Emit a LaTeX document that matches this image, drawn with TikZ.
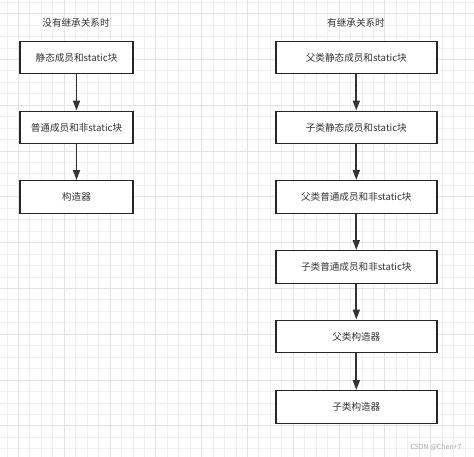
\documentclass[tikz,border=0pt]{standalone}
\usepackage{fontspec}
\setmainfont{Noto Sans CJK SC}
\usetikzlibrary{arrows.meta}
\begin{document}
\begin{tikzpicture}[x=1pt,y=-1pt,
  box/.style={draw=black!85,line width=1.4pt,fill=white,minimum width=#1,minimum height=32.5pt,inner sep=0pt,font=\fontsize{9.6}{11}\selectfont,text=black!80},
  box/.default=113pt,
  flow/.style={draw=black!80,line width=1.7pt,-{Triangle[length=10pt,width=7pt]}},
  ttl/.style={font=\fontsize{9.6}{11}\selectfont,text=black!80}]
\useasboundingbox (0,0) rectangle (474,457);
\fill[white] (0,0) rectangle (474,457);
% minor grid
\foreach \i in {0,...,41} {
  \draw[black!6,line width=0.6pt] ({18.3+11.45*(\i-1)},0) -- ({18.3+11.45*(\i-1)},457);
}
\foreach \i in {0,...,40} {
  \draw[black!6,line width=0.6pt] (0,{13.5+11.45*(\i-1)}) -- (474,{13.5+11.45*(\i-1)});
}
% major grid
\foreach \i in {0,...,10} {
  \draw[black!11,line width=0.7pt] ({18.3+45.8*\i},0) -- ({18.3+45.8*\i},457);
  \draw[black!11,line width=0.7pt] (0,{13.5+45.8*\i}) -- (474,{13.5+45.8*\i});
}
% left column
\node[ttl] (tl) at (76,23) {没有继承关系时};
\node[box] (l1) at (76.5,57.5) {静态成员和static块};
\node[box] (l2) at (76.5,127.5) {普通成员和非static块};
\node[box] (l3) at (76.5,197) {构造器};
\draw[flow] (l1) -- (l2);
\draw[flow] (l2) -- (l3);
% right column
\node[ttl] (tr) at (356,23) {有继承关系时};
\node[box=161pt] (r1) at (356.3,57.5) {父类静态成员和static块};
\node[box=161pt] (r2) at (356.3,127.5) {子类静态成员和static块};
\node[box=161pt] (r3) at (356.3,197) {父类普通成员和非static块};
\node[box=161pt] (r4) at (356.3,267) {子类普通成员和非static块};
\node[box=161pt] (r5) at (356.3,336.5) {父类构造器};
\node[box=161pt] (r6) at (356.3,407) {子类构造器};
\draw[flow] (r1) -- (r2);
\draw[flow] (r2) -- (r3);
\draw[flow] (r3) -- (r4);
\draw[flow] (r4) -- (r5);
\draw[flow] (r5) -- (r6);
% watermark
\node[font=\fontsize{7}{8}\selectfont,text=black!35,inner sep=0pt] (wm) at (436,447.7) {CSDN @Chen+7};
\end{tikzpicture}
\end{document}
